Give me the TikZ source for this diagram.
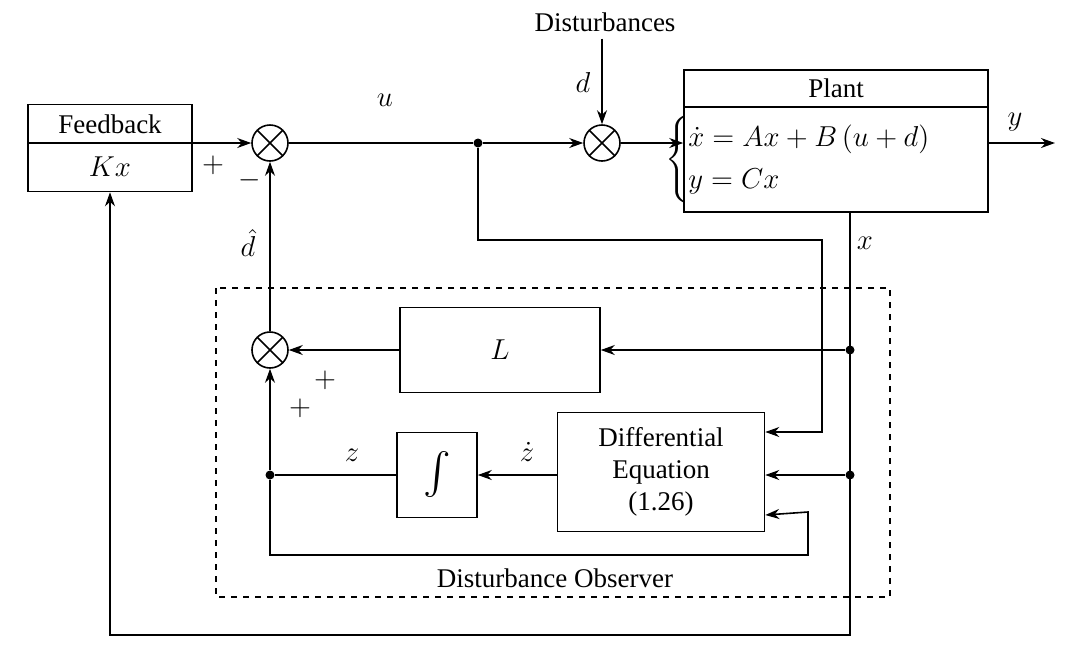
\documentclass[tikz,border=0pt]{standalone}
\usepackage{amsmath}
\usepackage{fontspec}
\setmainfont{Liberation Serif}
\usetikzlibrary{arrows.meta,calc}
\tikzset{
  blk/.style={draw, line width=0.8pt, inner sep=0pt},
  sum/.style={draw, circle, line width=0.8pt, minimum size=18pt, inner sep=0pt,
    path picture={\draw[line width=0.8pt] (path picture bounding box.north west) -- (path picture bounding box.south east)
      (path picture bounding box.north east) -- (path picture bounding box.south west);}},
  sig/.style={line width=0.8pt, -{Stealth[length=7pt,width=5pt]}},
  ln/.style={line width=0.8pt},
  dot/.style={circle, fill, inner sep=0pt, minimum size=4.5pt}
}
\begin{document}
\begin{tikzpicture}[x=0.5pt, y=-0.5pt, font=\fontsize{13.5}{16}\selectfont]
\useasboundingbox (0,0) rectangle (1088,644);

% Feedback block
\node[blk, minimum width=82pt, minimum height=43.5pt] (fb) at (110,148) {};
\draw[ln] (28,143) -- (192,143);
\node at (110,124) {Feedback};
\node at (110,167) {$Kx$};

% Plant block
\node[blk, minimum width=152pt, minimum height=71pt] (plant) at (836,141) {};
\draw[ln] (684,107) -- (988,107);
\node at (836,88) {Plant};
\node at (812,160) {$\begin{cases}\dot{x} = Ax + B\,(u + d)\\[2pt] y = Cx\end{cases}$};

% summing junctions
\node[sum] (s1) at (270,143) {};
\node[sum] (s2) at (602,143) {};
\node[sum] (s3) at (270,350) {};
\node[dot] (j1) at (478,143) {};

% observer blocks
\node[blk, minimum width=100pt, minimum height=42.5pt] (L) at (500,350) {$L$};
\node[blk, minimum width=103.5pt, minimum height=59.5pt, align=center] (de) at (661,472)
  {Differential\\Equation\\(1.26)};
\node[blk, minimum width=40pt, minimum height=42.5pt] (int) at (437,475) {\huge$\int$};
\node[dot] (j2) at (850,350) {};
\node[dot] (j3) at (850,475) {};
\node[dot] (j4) at (270,475) {};
\coordinate (xb) at (850,212);

% main path
\draw[sig] (fb.east |- s1) -- (s1);
\draw[ln] (s1) -- (j1);
\draw[sig] (j1) -- (s2);
\draw[sig] (s2) -- (plant.west |- s2);
\node (dist) at (605,22) {Disturbances};
\draw[sig] (dist.south -| s2) -- (s2);
\node at (583,82) {$d$};
\node at (385,100) {$u$};
\coordinate (yout) at (1055,143);
\draw[sig] (plant.east |- yout) -- (yout);
\node at (1015,122) {$y$};
\node at (213,165) {$+$};
\node at (250,180) {$-$};

% state feedback
\draw[sig] (xb) -- (850,635) -- (110,635) -- (fb.south);
\node at (865,243) {$x$};

% u into observer
\draw[sig] (j1) -- (478,240) -- (822,240) -- (822,432) -- (de.east |- 0,432);

% observer
\draw[sig] (j2) -- (L);
\draw[sig] (L) -- (s3);
\draw[sig] (j3) -- (de.east |- j3);
\draw[sig] (de.west |- int) -- (int);
\draw[ln] (int) -- (j4);
\draw[sig] (j4) -- (s3);
\draw[sig] (j4) -- (270,555) -- (808,555) -- (808,512) -- (de.east |- 0,515);
\draw[sig] (s3) -- (s1);
\node at (248,243) {$\hat{d}$};
\node at (527,452) {$\dot{z}$};
\node at (352,455) {$z$};
\node at (325,380) {$+$};
\node at (300,408) {$+$};

% observer frame
\draw[ln, dashed] (216,288) rectangle (890,597);
\node at (555,578) {Disturbance Observer};
\end{tikzpicture}
\end{document}
